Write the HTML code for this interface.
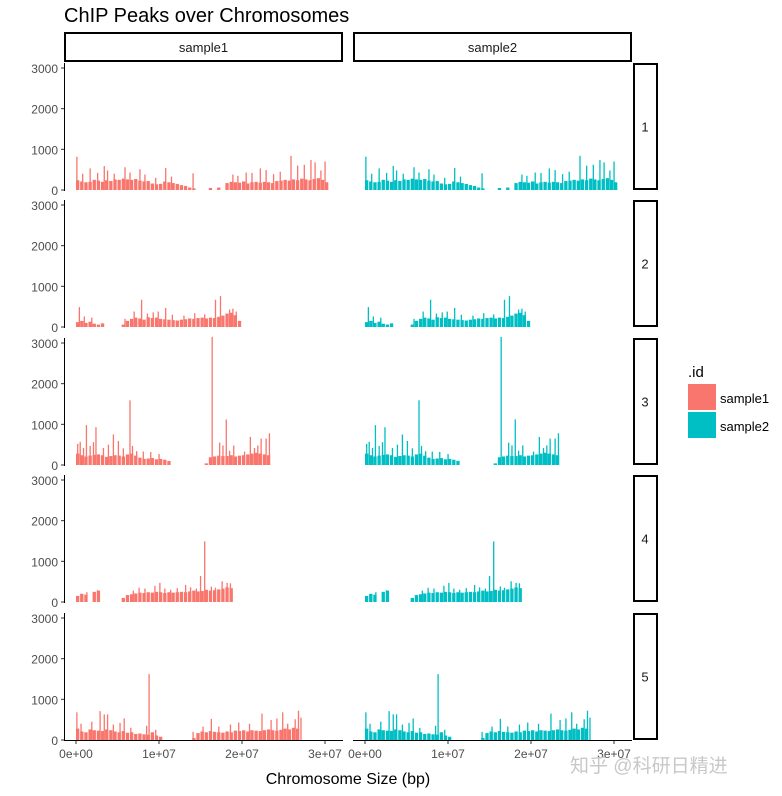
<!DOCTYPE html>
<html><head><meta charset="utf-8"><style>
body{margin:0;background:#fff;}
svg{display:block;font-family:"Liberation Sans","Noto Sans CJK SC",sans-serif;}
</style></head><body>
<svg id="chart" width="782" height="796">
<text x="64" y="22" font-size="20" fill="#000">ChIP Peaks over Chromosomes</text>
<g id="plot"></g>
<text x="348" y="784" font-size="16" text-anchor="middle" fill="#000">Chromosome Size (bp)</text>
<g>
<text x="688" y="377" font-size="15" fill="#000">.id</text>
<rect x="688" y="384" width="28" height="26" fill="#F8766D"/>
<text x="720" y="403" font-size="13" fill="#000">sample1</text>
<rect x="688" y="412" width="28" height="26" fill="#00BFC4"/>
<text x="720" y="431" font-size="13" fill="#000">sample2</text>
</g>
<text x="570" y="772" font-size="19" fill="#c8c8c8">知乎 @科研日精进</text>
</svg>
<script>
const samples = ["sample1","sample2"];
const chroms = ["1","2","3","4","5"];
const colors = ["#F8766D","#00BFC4"];
const yTicks = [0,1000,2000,3000];
const xTicks = [0,1e7,2e7,3e7];
const xTickLabels = ["0e+00","1e+07","2e+07","3e+07"];
const binSizeMb = 0.5;
const chr1Base = [240,210,190,200,250,230,200,240,220,260,250,280,260,250,270,230,210,220,160,140,150,210,190,170,150,120,100,60,40,0,0,0,50,0,60,0,170,200,190,180,210,160,190,200,180,200,190,170,220,230,250,230,260,240,280,260,240,270,290,250,190];
const chr1Spikes = [[0.1,820],[0.8,400],[1.7,530],[2.6,420],[3.4,590],[3.8,480],[4.6,400],[5.9,560],[6.5,430],[7.7,510],[8.3,380],[9.6,300],[10.8,540],[11.5,330],[14.1,410],[18.9,380],[19.5,350],[20.5,430],[21.2,420],[22.2,530],[22.9,490],[23.8,390],[24.6,450],[25.9,840],[26.7,600],[27.5,620],[28.3,740],[28.8,680],[29.5,480],[30.0,700]];
const chr2Base = [120,150,100,130,80,60,90,0,0,0,0,60,150,200,230,210,180,240,220,230,200,190,180,170,160,180,190,210,200,220,230,210,230,220,250,280,330,350,290,150];
const chr2Spikes = [[0.4,490],[1.0,260],[1.9,230],[5.9,200],[7.0,380],[7.9,670],[8.6,330],[9.3,360],[9.9,380],[10.8,470],[11.6,300],[13.0,280],[14.3,340],[15.5,310],[16.8,670],[17.4,760],[18.5,430],[18.9,450],[19.3,380]];
const chr3Base = [280,240,210,230,250,260,240,200,220,240,230,210,260,280,230,180,150,160,170,140,150,130,100,0,0,0,0,0,0,0,0,40,190,210,230,220,220,240,210,230,240,260,280,300,280,260,240];
const chr3Spikes = [[0.2,520],[0.5,570],[0.9,420],[1.25,980],[1.7,470],[2.1,560],[2.4,930],[3.3,420],[3.9,500],[4.5,750],[5.1,590],[5.7,410],[6.5,1590],[6.8,470],[7.3,340],[8.1,330],[9.0,320],[10.0,270],[16.4,3150],[17.3,550],[17.7,480],[18.1,1120],[18.5,350],[19.0,480],[20.3,330],[21.0,690],[21.5,420],[21.9,480],[22.3,650],[22.9,650],[23.3,780]];
const chr4Base = [150,200,180,0,250,280,0,0,0,0,0,100,170,190,210,230,220,240,230,250,240,220,240,230,240,250,240,260,280,260,270,300,280,290,310,330,360,340];
const chr4Spikes = [[0.6,200],[1.3,240],[2.6,290],[6.9,280],[7.6,350],[8.3,330],[9.5,400],[10.1,470],[10.7,330],[11.4,300],[12.2,340],[13.2,420],[13.8,360],[14.5,330],[15.0,640],[15.5,1490],[16.3,380],[16.8,350],[17.6,510],[18.2,470],[18.6,460]];
const chr5Base = [280,210,190,260,240,230,220,260,240,210,190,220,180,190,150,160,140,130,190,110,80,0,0,0,0,0,0,0,50,170,210,190,220,200,190,180,210,190,230,220,240,210,240,230,220,240,260,240,230,250,280,260,300,280];
const chr5Spikes = [[0.1,680],[0.6,400],[1.9,450],[2.9,710],[3.4,630],[3.8,630],[4.5,380],[5.3,420],[5.8,530],[6.6,300],[8.5,350],[8.8,1620],[9.6,250],[14.1,200],[15.3,330],[16.3,520],[17.2,330],[18.6,380],[19.6,430],[20.9,400],[22.4,650],[23.5,490],[24.2,530],[24.9,680],[25.5,400],[26.4,510],[26.8,720],[27.1,550]];
const baseData = [chr1Base,chr2Base,chr3Base,chr4Base,chr5Base];
const spikeData = [chr1Spikes,chr2Spikes,chr3Spikes,chr4Spikes,chr5Spikes];

const NS="http://www.w3.org/2000/svg";
const plot=document.getElementById('plot');
function mk(tag,attrs,parent){const e=document.createElementNS(NS,tag);for(const k in attrs)e.setAttribute(k,attrs[k]);(parent||plot).appendChild(e);return e;}
const colX=[64,353], panelW=279, rowTop=[63,200,338,475,613], panelH=127;
function xScale(col,bp){return colX[col]+12+bp/1e7*83;}
function yScale(row,v){return rowTop[row]+panelH-v*0.04067;}

samples.forEach((s,c)=>{
  const st=mk('rect',{x:colX[c]+1,y:33,width:panelW-2,height:28,fill:'#fff',stroke:'#000','stroke-width':2});
  
  
  const t=mk('text',{x:colX[c]+panelW/2,y:52,'font-size':13,'text-anchor':'middle',fill:'#1a1a1a'});
  t.textContent=s;
  
  
});
chroms.forEach((ch,r)=>{
  const st=mk('rect',{x:634,y:rowTop[r]+1,width:23,height:panelH-2,fill:'#fff',stroke:'#000','stroke-width':2});
  
  
  const t=mk('text',{x:645,y:rowTop[r]+panelH/2+5,'font-size':13,'text-anchor':'middle',fill:'#1a1a1a'});
  t.textContent=ch;
  
  
  const ax=mk('line',{x1:64.5,x2:64.5,y1:rowTop[r],y2:rowTop[r]+panelH+1,stroke:'#000','stroke-width':1});
  
  
  yTicks.forEach(v=>{
    const y=yScale(r,v);
    const tk=mk('line',{x1:61,x2:64,y1:y,y2:y,stroke:'#333'});
    
    
    const tl=mk('text',{x:58,y:y+5,'font-size':12,'text-anchor':'end',fill:'#4d4d4d'});
    tl.textContent=v;
    
    
  });
  samples.forEach((s,c)=>{
    const g=mk('g',{fill:colors[c]});
    
    
    const y0=yScale(r,0);
    baseData[r].forEach((v,i)=>{
      if(!v)return;
      const x1=xScale(c,i*binSizeMb*1e6), x2=xScale(c,(i+1)*binSizeMb*1e6);
      const b=mk('rect',{x:x1,y:yScale(r,v),width:(x2-x1)*0.8,height:y0-yScale(r,v)},g);
      
      
    });
    spikeData[r].forEach(p=>{
      const x=xScale(c,p[0]*1e6);
      const b=mk('rect',{x:x-0.6,y:yScale(r,p[1]),width:1.3,height:y0-yScale(r,p[1])},g);
      
      
    });
  });
});
samples.forEach((s,c)=>{
  const ax=mk('line',{x1:colX[c],x2:colX[c]+panelW,y1:740.5,y2:740.5,stroke:'#000','stroke-width':1});
  
  
  xTicks.forEach((v,i)=>{
    const x=xScale(c,v);
    const tk=mk('line',{x1:x,x2:x,y1:741,y2:744,stroke:'#333'});
    
    
    const tl=mk('text',{x:x,y:758,'font-size':12,'text-anchor':'middle',fill:'#4d4d4d'});
    tl.textContent=xTickLabels[i];
    
    
  });
});
</script>
</body></html>
